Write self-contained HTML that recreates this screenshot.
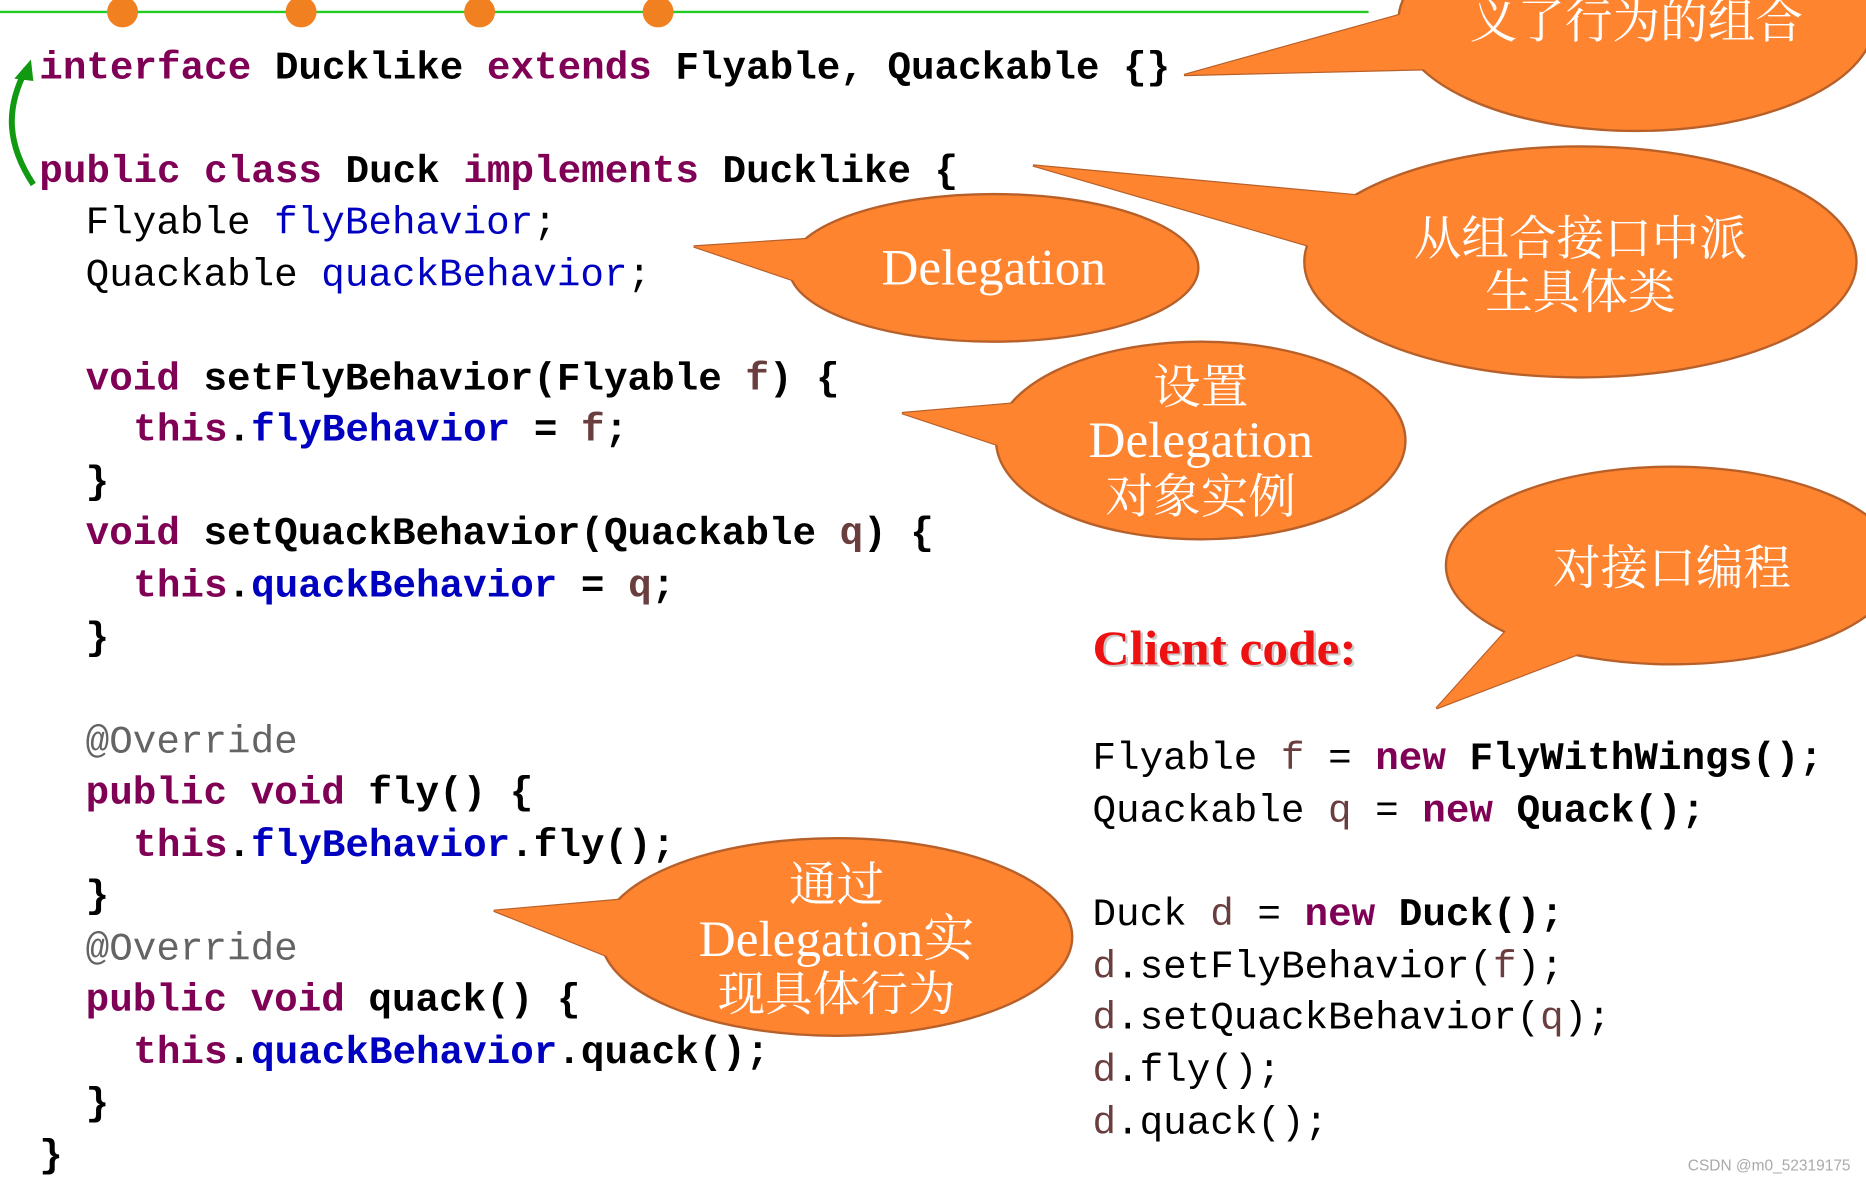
<!DOCTYPE html>
<html><head><meta charset="utf-8"><style>
html,body{margin:0;padding:0;background:#fff;width:1866px;height:1181px;overflow:hidden}
svg{display:block}
.c{font-family:"Liberation Mono",monospace;font-size:33px;fill:#000}
.b{font-weight:bold}
.k{fill:#7f0055;font-weight:bold}
.f{fill:#0000c0}
.p{fill:#6a3e3e}
.a{fill:#646464}
.w{font-family:"Liberation Serif","Noto Serif CJK SC",serif;fill:#fff;font-size:43px;text-anchor:middle}
.z{font-size:40px}
</style></head><body>
<svg width="1866" height="1181" viewBox="0 0 1568 992" preserveAspectRatio="none" xml:space="preserve">
<line x1="0" y1="10" x2="1150" y2="10" stroke="#22cc22" stroke-width="2"/>
<g fill="#f08020"><circle cx="103" cy="10" r="13"/><circle cx="253" cy="10" r="13"/><circle cx="403" cy="10" r="13"/><circle cx="553" cy="10" r="13"/></g>
<path d="M28,155 C5,120 5,90 22,58" fill="none" stroke="#119911" stroke-width="5"/>
<polygon points="26,50 12,66 28,68" fill="#119911"/>

<g fill="#fe8430" stroke="#b8602a" stroke-width="2">
<polygon points="1185,10 995,63 1205,58"/><ellipse cx="1375" cy="18" rx="200" ry="92"/>
<polygon points="690,200 583,207 680,240"/><ellipse cx="835" cy="225" rx="172" ry="62"/>
<polygon points="1150,165 868,139 1105,208"/><ellipse cx="1328" cy="220" rx="232" ry="97"/>
<polygon points="862,338 758,347 842,375"/><ellipse cx="1009" cy="370" rx="172" ry="83"/>
<polygon points="1270,525 1207,595 1330,548"/><ellipse cx="1405" cy="475" rx="190" ry="83"/>
<polygon points="530,755 415,765 515,805"/><ellipse cx="703" cy="787" rx="198" ry="83"/>
</g>
<g fill="#fe8430">
<polygon points="1185,10 995,63 1205,58"/>
<polygon points="690,200 583,207 680,240"/>
<polygon points="1150,165 868,139 1105,208"/>
<polygon points="862,338 758,347 842,375"/>
<polygon points="1270,525 1207,595 1330,548"/>
<polygon points="530,755 415,765 515,805"/>
</g>
<g class="w">
<text x="1375" y="32" class="z">义了行为的组合</text>
<text x="835" y="239">Delegation</text>
<text x="1328" y="214" class="z">从组合接口中派</text>
<text x="1328" y="259" class="z">生具体类</text>
<text x="1009" y="339" class="z">设置</text>
<text x="1009" y="384">Delegation</text>
<text x="1009" y="431" class="z">对象实例</text>
<text x="1405" y="491" class="z">对接口编程</text>
<text x="703" y="757" class="z">通过</text>
<text x="703" y="803">Delegation实</text>
<text x="703" y="849" class="z">现具体行为</text>
</g>

<g class="c">
<text x="33" y="66"><tspan class="k">interface</tspan> <tspan class="b">Ducklike</tspan> <tspan class="k">extends</tspan> <tspan class="b">Flyable, Quackable {}</tspan></text>
<text x="33" y="153"><tspan class="k">public class</tspan> <tspan class="b">Duck</tspan> <tspan class="k">implements</tspan> <tspan class="b">Ducklike {</tspan></text>
<text x="72" y="196">Flyable <tspan class="f">flyBehavior</tspan>;</text>
<text x="72" y="240">Quackable <tspan class="f">quackBehavior</tspan>;</text>
<text x="72" y="327"><tspan class="k">void</tspan> <tspan class="b">setFlyBehavior(Flyable</tspan> <tspan class="p b">f</tspan><tspan class="b">) {</tspan></text>
<text x="112" y="370"><tspan class="k">this</tspan><tspan class="b">.</tspan><tspan class="f b">flyBehavior</tspan> <tspan class="b">=</tspan> <tspan class="p b">f</tspan><tspan class="b">;</tspan></text>
<text x="72" y="414" class="b">}</text>
<text x="72" y="457"><tspan class="k">void</tspan> <tspan class="b">setQuackBehavior(Quackable</tspan> <tspan class="p b">q</tspan><tspan class="b">) {</tspan></text>
<text x="112" y="501"><tspan class="k">this</tspan><tspan class="b">.</tspan><tspan class="f b">quackBehavior</tspan> <tspan class="b">=</tspan> <tspan class="p b">q</tspan><tspan class="b">;</tspan></text>
<text x="72" y="545" class="b">}</text>
<text x="72" y="632" class="a">@Override</text>
<text x="72" y="675"><tspan class="k">public void</tspan> <tspan class="b">fly() {</tspan></text>
<text x="112" y="719"><tspan class="k">this</tspan><tspan class="b">.</tspan><tspan class="f b">flyBehavior</tspan><tspan class="b">.fly();</tspan></text>
<text x="72" y="762" class="b">}</text>
<text x="72" y="806" class="a">@Override</text>
<text x="72" y="849"><tspan class="k">public void</tspan> <tspan class="b">quack() {</tspan></text>
<text x="112" y="893"><tspan class="k">this</tspan><tspan class="b">.</tspan><tspan class="f b">quackBehavior</tspan><tspan class="b">.quack();</tspan></text>
<text x="72" y="936" class="b">}</text>
<text x="33" y="980" class="b">}</text>

<text x="918" y="646">Flyable <tspan class="p">f</tspan> = <tspan class="k">new</tspan> <tspan class="b">FlyWithWings();</tspan></text>
<text x="918" y="690">Quackable <tspan class="p">q</tspan> = <tspan class="k">new</tspan> <tspan class="b">Quack();</tspan></text>
<text x="918" y="777">Duck <tspan class="p">d</tspan> = <tspan class="k">new</tspan> <tspan class="b">Duck();</tspan></text>
<text x="918" y="821"><tspan class="p">d</tspan>.setFlyBehavior(<tspan class="p">f</tspan>);</text>
<text x="918" y="864"><tspan class="p">d</tspan>.setQuackBehavior(<tspan class="p">q</tspan>);</text>
<text x="918" y="908"><tspan class="p">d</tspan>.fly();</text>
<text x="918" y="952"><tspan class="p">d</tspan>.quack();</text>
</g>
<text x="920" y="560" font-family="Liberation Serif,serif" font-weight="bold" font-size="41" fill="#999" opacity="0.5" textLength="222" lengthAdjust="spacingAndGlyphs">Client code:</text>
<text x="918" y="558" font-family="Liberation Serif,serif" font-weight="bold" font-size="41" fill="#ee1111" textLength="222" lengthAdjust="spacingAndGlyphs">Client code:</text>
<text x="1555" y="983" font-family="Liberation Sans,sans-serif" font-size="13" fill="#aaa" text-anchor="end">CSDN @m0_52319175</text>
</svg>
</body></html>
